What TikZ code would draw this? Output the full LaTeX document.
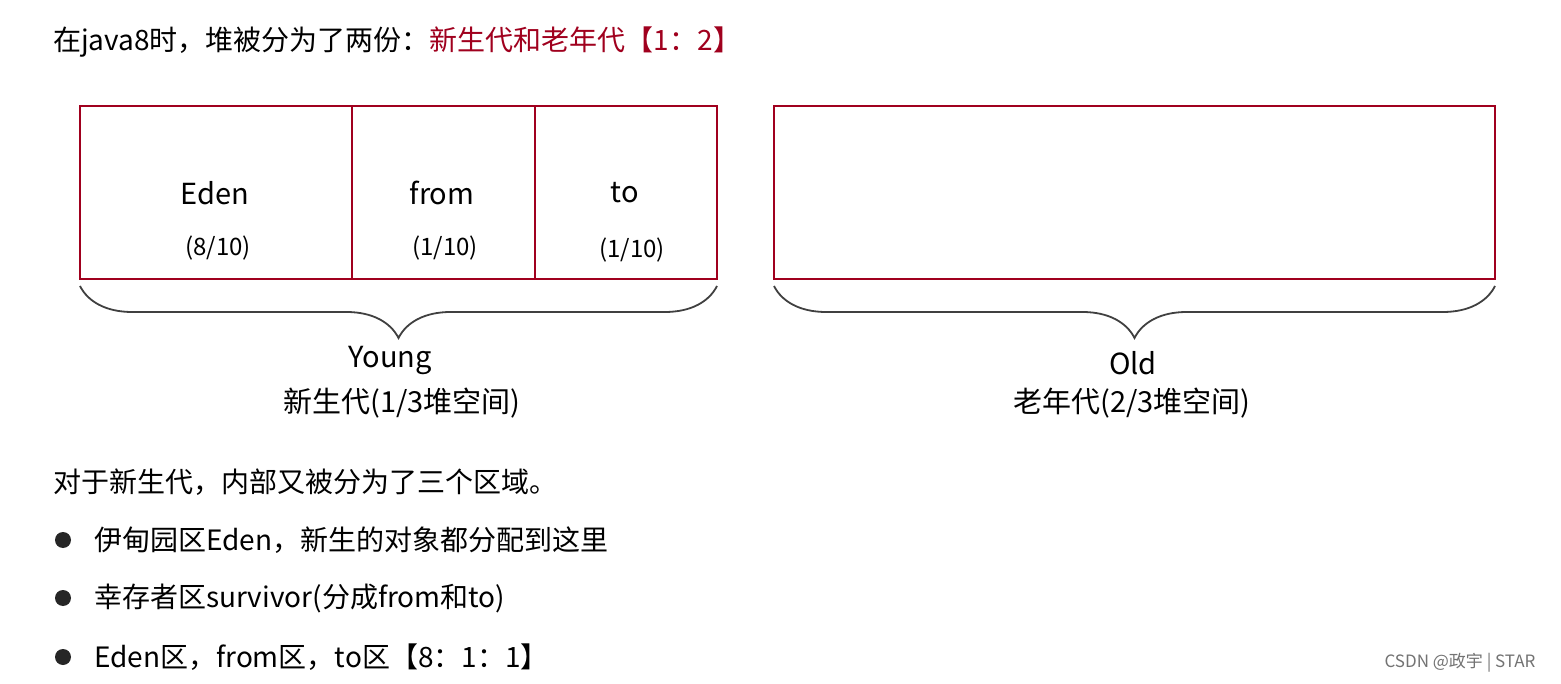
\documentclass[tikz,border=0pt]{standalone}
\usepackage{fontspec}
\setmainfont{Noto Sans CJK SC}
\usetikzlibrary{decorations.pathreplacing}
\definecolor{dred}{HTML}{A0001E}
\definecolor{bgray}{HTML}{404040}
\begin{document}
\begin{tikzpicture}[x=1pt,y=-1pt,
  region/.style={draw=dred,line width=1.8pt},
  lab/.style={font=\fontsize{29}{32}\selectfont},
  sub/.style={font=\fontsize{24}{27}\selectfont},
  txt/.style={font=\fontsize{28}{32}\selectfont,anchor=west,inner sep=0},
  brc/.style={draw=bgray,line width=1.8pt,decorate,decoration={brace,mirror,amplitude=52pt,aspect=0.5}},
  dot/.style={circle,fill=black!85,inner sep=0,minimum size=16pt}]
\useasboundingbox[fill=white] (0,0) rectangle (1561,684);
\node[txt] (title) at (53,42) {在java8时，堆被分为了两份：\textcolor{dred}{新生代和老年代【1：2】}};
\draw[region] (80,106) rectangle (352,279);
\draw[region] (352,106) rectangle (535,279);
\draw[region] (535,106) rectangle (717,279);
\draw[region] (774,106) rectangle (1495,279);
\node[lab] (eden) at (215,193) {Eden};
\node[sub] (edenr) at (218,248) {(8/10)};
\node[lab] (from) at (442,193) {from};
\node[sub] (fromr) at (445,248) {(1/10)};
\node[lab] (to) at (625,193) {to};
\node[sub] (tor) at (632,250) {(1/10)};
\coordinate (ya) at (80,286); \coordinate (yb) at (717,286);
\coordinate (oa) at (774,286); \coordinate (ob) at (1495,286);
\draw[brc] (ya) -- (yb);
\draw[brc] (oa) -- (ob);
\node[lab] (young) at (390,360) {Young};
\node[lab] (youngc) at (402,403) {新生代(1/3堆空间)};
\node[lab] (old) at (1133,363) {Old};
\node[lab] (oldc) at (1132,403) {老年代(2/3堆空间)};
\node[txt] (intro) at (53,482) {对于新生代，内部又被分为了三个区域。};
\node[dot] (d1) at (63,540) {};
\node[txt] (b1) at (94,540) {伊甸园区Eden，新生的对象都分配到这里};
\node[dot] (d2) at (63,598) {};
\node[txt] (b2) at (94,598) {幸存者区survivor(分成from和to)};
\node[dot] (d3) at (63,657) {};
\node[txt] (b3) at (94,657) {Eden区，from区，to区【8：1：1】};
\node[font=\fontsize{17}{20}\selectfont,text=black!55] (wm) at (1460,663) {CSDN @政宇 | STAR};
\end{tikzpicture}
\end{document}
